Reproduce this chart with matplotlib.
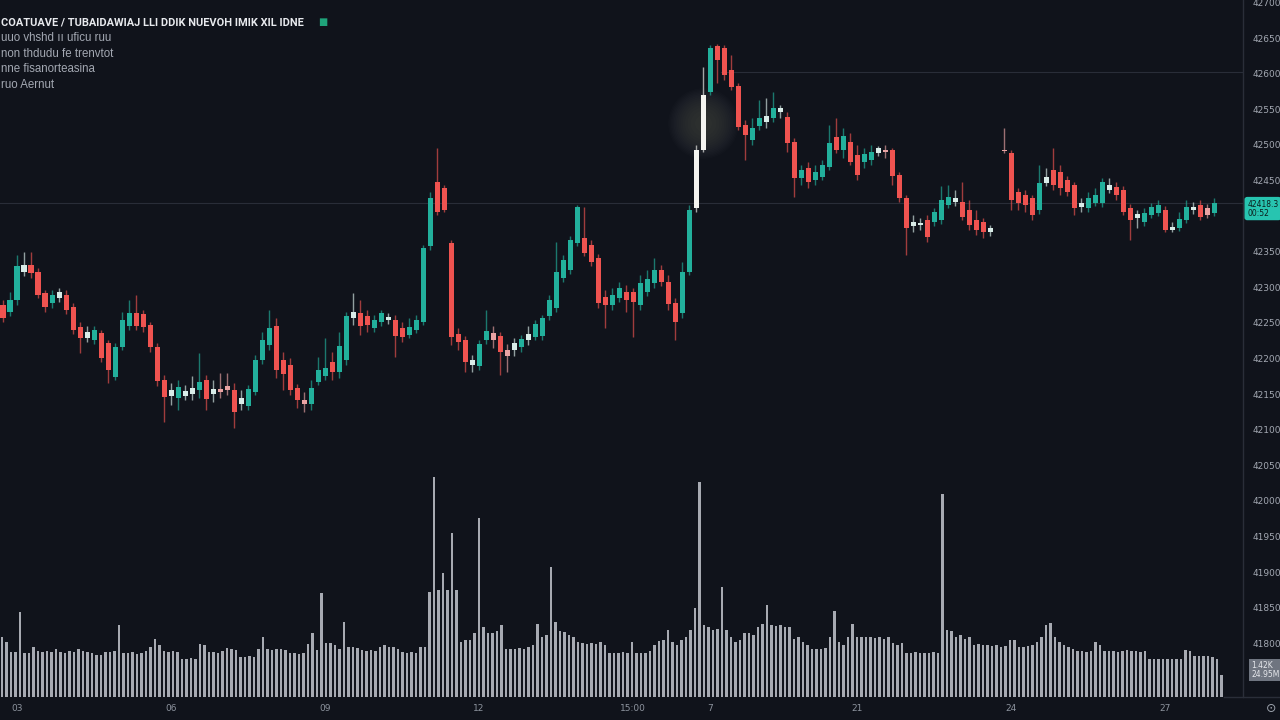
import numpy as np
import matplotlib
matplotlib.use('Agg')
import matplotlib.pyplot as plt
from matplotlib.lines import Line2D

# candles: open / high / low / close in chart points (None = no trade)
opens = [395, 388, 400, 428, 435, 428, 407, 397, 402, 405, 393, 373, 362, 360, 367, 357, 323, 353, 374, 387,
         386, 375, 353, 320, 304, 302, 304, 306, 310, 320, 306, 311, 314, 310, 296, 294, 308, 340, 355, 374,
         340, 335, 312, 300, 296, 318, 324, 338, 328, 340, 382, 387, 384, 372, 378, 380, 380, 372, 365, 370,
         378, 454, 518, 512, 457, 366, 360, 335, 334, 360, 367, 364, 350, 350, 353, 360, 363, 364, 384, 392,
         422, 430, 457, 462, 455, 442, 403, 395, 402, 408, 408, 395, 408, 417, 430, 418, 397, 387, 428, 492,
         550, 608, 654, 652, 630, 614, 575, 560, 574, 578, 582, 588, 583, 558, 522, 532, 520, 523, 533, 563,
         550, 558, 545, 538, 540, 547, 550, 550, 525, 502, 474, 475, 480, 478, 480, 495, 498, 498, 490, 480,
         478, 468, None, 550, 547, 508, 505, 502, 490, 517, 530, 528, 520, 515, 493, 492, 497, 497, 510, 513,
         510, 492, 482, 478, 485, 487, 490, 470, 472, 480, 490, 495, 492, 487]
highs = [400, 408, 445, 448, 448, 432, 410, 410, 412, 410, 397, 378, 374, 374, 370, 360, 357, 388, 400, 405,
         390, 378, 357, 325, 317, 320, 315, 324, 347, 325, 320, 327, 327, 317, 310, 315, 345, 368, 390, 382,
         348, 342, 316, 308, 320, 343, 362, 348, 368, 388, 407, 400, 390, 385, 390, 387, 385, 378, 382, 385,
         455, 508, 552, 515, 460, 372, 364, 345, 360, 390, 374, 368, 356, 362, 365, 374, 380, 385, 405, 458,
         445, 464, 495, 493, 460, 446, 410, 412, 418, 415, 412, 425, 430, 442, 435, 425, 402, 438, 495, 555,
         633, 655, 656, 655, 645, 617, 580, 582, 600, 602, 608, 595, 588, 562, 535, 538, 535, 540, 575, 582,
         572, 567, 555, 552, 555, 554, 555, 552, 528, 505, 485, 482, 485, 492, 514, 515, 510, 518, 500, 490,
         482, 475, None, 572, 550, 512, 510, 505, 535, 532, 552, 535, 524, 518, 502, 508, 512, 522, 522, 518,
         514, 496, 490, 492, 497, 500, 494, 478, 488, 500, 498, 500, 496, 502]
lows = [378, 384, 395, 424, 422, 402, 388, 392, 398, 386, 366, 347, 358, 356, 338, 317, 320, 350, 370, 370,
        368, 348, 314, 278, 295, 290, 300, 300, 302, 290, 298, 302, 305, 272, 290, 290, 305, 336, 350, 322,
        310, 305, 292, 288, 290, 315, 320, 320, 322, 335, 375, 365, 368, 368, 374, 376, 343, 358, 362, 367,
        375, 450, 485, 488, 355, 350, 328, 328, 330, 356, 352, 325, 328, 344, 348, 355, 360, 360, 380, 388,
        418, 426, 454, 444, 434, 392, 372, 390, 398, 388, 363, 390, 404, 412, 414, 390, 360, 382, 425, 488,
        548, 605, 617, 620, 610, 570, 540, 555, 570, 572, 578, 582, 548, 503, 515, 512, 515, 520, 530, 547,
        542, 535, 520, 532, 535, 544, 542, 515, 498, 445, 468, 470, 458, 474, 476, 492, 494, 480, 470, 465,
        462, 464, None, 547, 490, 490, 488, 480, 486, 514, 510, 505, 504, 485, 488, 488, 494, 493, 507, 500,
        485, 460, 472, 474, 482, 484, 468, 468, 469, 477, 486, 480, 482, 484]
closes = [382, 400, 434, 435, 427, 405, 393, 405, 408, 390, 370, 362, 368, 370, 342, 330, 353, 380, 387, 374,
          373, 353, 319, 303, 310, 313, 309, 312, 318, 301, 311, 308, 310, 288, 302, 311, 340, 360, 372, 330,
          326, 310, 300, 296, 312, 330, 332, 328, 354, 384, 388, 374, 375, 380, 387, 383, 364, 363, 373, 380,
          452, 502, 488, 490, 363, 358, 338, 340, 356, 369, 360, 348, 344, 357, 361, 366, 376, 382, 400, 428,
          440, 460, 493, 447, 438, 397, 395, 405, 412, 400, 398, 417, 421, 430, 418, 396, 378, 428, 490, 550,
          605, 652, 640, 625, 613, 573, 565, 572, 582, 584, 592, 592, 557, 522, 530, 518, 528, 535, 557, 550,
          564, 538, 525, 546, 548, 552, 548, 524, 502, 472, 478, 477, 463, 488, 500, 503, 502, 483, 475, 470,
          468, 472, None, 549, 500, 497, 495, 485, 517, 523, 515, 512, 508, 492, 497, 502, 505, 518, 515, 505,
          488, 480, 486, 487, 493, 495, 470, 473, 481, 493, 493, 483, 485, 497]

volume = [60, 55, 45, 45, 85, 44, 44, 50, 46,
          45, 46, 45, 48, 45, 44, 46, 45, 48, 46, 45, 44,
          42, 42, 45, 45, 46, 72, 44, 44, 45, 43, 44, 46,
          50, 58, 52, 46, 45, 46, 45, 38, 38, 39, 38, 53, 52,
          45, 45, 44, 46, 49, 48, 47, 40, 40, 41, 40, 48, 60,
          48, 47, 48, 48, 47, 44, 44, 43, 44, 53, 64, 47, 104,
          54, 54, 52, 48, 75, 50, 50, 49, 47, 46, 47, 46,
          50, 52, 50, 50, 48, 45, 44, 45, 44, 50,
          50, 105, 220, 107, 124, 107, 164, 107, 55, 57, 57, 64, 179, 70, 64, 64, 66, 72,
          48, 48, 48, 49, 48, 50, 52, 73, 60, 62, 130, 75, 66, 65, 62, 60,
          55, 54, 53, 54, 53, 55, 52, 44, 44, 44, 45, 44, 55, 44, 44, 44,
          46, 52, 56, 57, 67, 55, 52, 57, 60, 67, 89, 215, 72, 70, 67, 68, 110,
          67, 60, 55, 57, 64, 64, 62, 70, 73, 92, 72, 71, 72, 70, 70,
          58, 60, 55, 52, 48, 48, 48, 49, 60, 86, 55, 52, 60, 73, 60,
          60, 60, 60, 59, 60, 58, 60, 54, 52, 54, 44, 44, 45, 44, 44, 44, 45, 44, 203,
          67, 66, 60, 62, 58, 60, 52, 53, 52, 52, 51, 52, 50, 51, 57, 57,
          50, 50, 51, 52, 55, 60, 72, 74, 60, 55, 52, 50, 48, 46, 46, 45, 46, 55, 52,
          46, 46, 46, 45, 46, 47, 46, 46, 45, 46, 38, 38, 38, 38, 38, 38, 38, 38,
          47, 46, 41, 41, 41, 41, 40, 38, 22]

highlight = [99, 100]          # white breakout candles with glow
upper_level = 628              # faint resistance line
price_ticks = [42700, 42650, 42600, 42550, 42500, 42450, 42350, 42300, 42250, 42200,
               42150, 42100, 42050, 42000, 41950, 41900, 41850, 41800]
xtick_pos = [2, 24, 46, 68, 90, 101, 122, 144, 166]
xtick_labels = ['03', '06', '09', '12', '15:00', '7', '21', '24', '27']

title = 'COATUAVE / TUBAIDAWIAJ LLI DDIK NUEVOH IMIK XIL IDNE'
info_lines = ['uuo vhshd ıı uficu ruu', 'non thdudu fe trenvtot',
              'nne fisanorteasina', 'ruo Aernut']

BG = '#10131b'
TEAL = '#22b09c'
RED = '#ef5350'
PALE_UP = '#d9ece8'
PALE_DN = '#e9a3a3'
TXT = '#a3a8b2'

# price scale: 35.6 points per 50 price units
def to_price(v):
    return 42650 + (np.asarray(v) - 662) * 50 / 35.6

def to_points(p):
    return 662 + (np.asarray(p) - 42650) * 35.6 / 50

fig = plt.figure(figsize=(12.8, 7.2), dpi=100, facecolor=BG)
rect = [0, 23 / 720, 1243 / 1280, 697 / 720]

# volume panel (own bar index)
vax = fig.add_axes(rect)
vax.set_facecolor('none')
vx = np.arange(len(volume))
vax.bar(vx, volume, width=0.55, color='#c3c6ce', alpha=0.85, linewidth=0)
vax.set_xlim(-0.44, 275.8)
vax.set_ylim(0, 697)
vax.axis('off')

ax = fig.add_axes(rect)
ax.set_facecolor('none')
ax.set_zorder(2)

o = np.array([np.nan if v is None else v for v in opens], dtype=float)
h = np.array([np.nan if v is None else v for v in highs], dtype=float)
l = np.array([np.nan if v is None else v for v in lows], dtype=float)
c = np.array([np.nan if v is None else v for v in closes], dtype=float)
x = np.arange(len(c))
ok = ~np.isnan(c)

cols = []
for i in range(len(c)):
    if not ok[i]:
        cols.append(BG)
        continue
    up = c[i] >= o[i]
    small = abs(c[i] - o[i]) <= 7
    if i in highlight:
        cols.append('#f4f4f0')
    elif small:
        cols.append(PALE_UP if up else PALE_DN)
    else:
        cols.append(TEAL if up else RED)
cols = np.array(cols)

# soft glow around the upper breakout candle
gi = highlight[-1]
gy = (o[gi] + c[gi]) / 2
for s in np.linspace(2600, 150, 14):
    ax.scatter([x[gi]], [gy], s=s, color='#fff1cf', alpha=0.012, linewidths=0, zorder=1)

ax.vlines(x[ok], l[ok], h[ok], colors=cols[ok], linewidth=1.0, alpha=0.65, zorder=2)
bottoms = np.minimum(o, c)
heights = np.maximum(np.abs(c - o), 1.5)
ax.bar(x[ok], heights[ok], bottom=bottoms[ok], width=0.72, color=cols[ok], linewidth=0, zorder=3)

last = c[ok][-1]
ax.axhline(last, color='#3a404c', linewidth=0.8, alpha=0.6, zorder=0)
ax.axhline(upper_level, xmin=0.58, color='#3a404c', linewidth=0.8, alpha=0.6, zorder=0)

ax.set_xlim(-0.43, 177.1)
ax.set_ylim(3, 700)
ax.set_yticks([])
ax.set_xticks(xtick_pos)
ax.set_xticklabels(xtick_labels)
ax.tick_params(axis='x', length=0, pad=5, labelsize=6.5, labelcolor='#8d939e')
for s in ['top', 'left', 'bottom', 'right']:
    ax.spines[s].set_visible(False)

sec = ax.secondary_yaxis('right', functions=(to_price, to_points))
sec.set_yticks(price_ticks)
sec.tick_params(length=0, pad=7, labelsize=6.5, labelcolor=TXT)
sec.spines['right'].set_color('#2a2e39')
sec.spines['right'].set_linewidth(1.0)

# last price tag
ax.annotate(f'{to_price(last):.1f}\n00:52', xy=(1, last), xycoords=('axes fraction', 'data'),
            xytext=(3, -4), textcoords='offset points', ha='left', va='center',
            fontsize=5.5, color='#0c1f1d', linespacing=1.0, annotation_clip=False,
            bbox=dict(boxstyle='round,pad=0.35', fc='#27c4b0', ec='none'))

# volume tag and bottom details
fig.text(1251 / 1280, 1 - 670 / 720, '1.42K\n24.95M', fontsize=5.5, color='#e6e8ec',
         ha='left', va='center', linespacing=1.0,
         bbox=dict(boxstyle='square,pad=0.3', fc='#6f7580', ec='none'))
fig.add_artist(Line2D([1224 / 1280, 1], [23 / 720, 23 / 720], color='#2a2e39', lw=1))
fig.text(1271 / 1280, 1 - 708 / 720, '⊙', fontsize=9, color='#9aa0aa', ha='center', va='center')

# header
fig.text(1 / 1280, 1 - 22 / 720, title, fontsize=7.9, fontweight='bold', color='#e8eaee',
         ha='left', va='center', family=['Roboto', 'DejaVu Sans'])
fig.text(318 / 1280, 1 - 22 / 720, '■', fontsize=7, color='#1fa37a', ha='left', va='center')
for k, line in enumerate(info_lines):
    fig.text(1 / 1280, 1 - (38 + 15.7 * k) / 720, line, fontsize=8.3, color=TXT,
             ha='left', va='center', family=['Liberation Sans', 'DejaVu Sans'])

fig.savefig('out.png', dpi=100, facecolor=BG)
